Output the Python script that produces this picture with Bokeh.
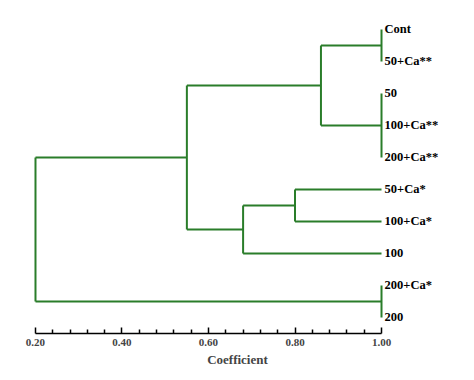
from bokeh.plotting import figure
from bokeh.models import Range1d, LinearAxis, FixedTicker, PrintfTickFormatter, ColumnDataSource
from bokeh.core.properties import value
from bokeh.embed import file_html
from bokeh.resources import INLINE

# Leaves, top to bottom
leaves = ["Cont", "50+Ca**", "50", "100+Ca**", "200+Ca**",
          "50+Ca*", "100+Ca*", "100", "200+Ca*", "200"]

# Clusters: (similarity coefficient at merge, members) — members are leaf indices or other cluster names
clusters = {
    "A": (1.00, [0, 1]),
    "B": (1.00, [2, 3, 4]),
    "C": (0.86, ["A", "B"]),
    "D": (0.80, [5, 6]),
    "E": (0.68, ["D", 7]),
    "F": (0.55, ["C", "E"]),
    "G": (1.00, [8, 9]),
    "root": (0.20, ["F", "G"]),
}
leaf_coef = 1.00

major_ticks = [0.20, 0.40, 0.60, 0.80, 1.00]
minor_ticks = [0.24, 0.28, 0.32, 0.36, 0.44, 0.48, 0.52, 0.56,
               0.64, 0.68, 0.72, 0.76, 0.84, 0.88, 0.92, 0.96]

GREEN = "#2a7d2a"
SERIF = "'Liberation Serif', 'Times New Roman', serif"

xs, ys = [], []

def place(node):
    if isinstance(node, int):
        return leaf_coef, float(node)
    h, members = clusters[node]
    pts = [place(m) for m in members]
    for cx, cy in pts:
        if cx != h:
            xs.append([cx, h]); ys.append([cy, cy])
    ymin = min(p[1] for p in pts); ymax = max(p[1] for p in pts)
    xs.append([h, h]); ys.append([ymin, ymax])
    return h, (ymin + ymax) / 2

place("root")

W, H = 474, 380
p = figure(width=W, height=H, output_backend="svg", toolbar_location=None,
           x_range=Range1d(0.1191, 1.2150), y_range=Range1d(9.5, -0.906),
           x_axis_type=None, y_axis_type=None,
           min_border_left=0, min_border_right=0, min_border_top=0, min_border_bottom=47)
p.outline_line_color = None
p.grid.visible = False
p.background_fill_color = "white"

p.multi_line(xs, ys, line_color=GREEN, line_width=2)

src = ColumnDataSource(dict(x=[leaf_coef] * len(leaves), y=list(range(len(leaves))), t=leaves))
p.text(x="x", y="y", text="t", source=src, x_offset=3, text_baseline="middle",
       text_font=value(SERIF), text_font_style="bold", text_font_size="12.5px",
       text_color="black")

ax = LinearAxis(ticker=FixedTicker(ticks=major_ticks, minor_ticks=minor_ticks),
                formatter=PrintfTickFormatter(format="%.2f"),
                bounds=(0.2, 1.0), axis_label="Coefficient")
ax.axis_line_color = "black"
ax.axis_line_width = 1.5
ax.major_tick_in = 6
ax.major_tick_out = 0
ax.minor_tick_in = 4
ax.minor_tick_out = 0
ax.major_tick_line_width = 1.5
ax.minor_tick_line_width = 1.5
ax.major_label_standoff = 5
ax.major_label_text_font = SERIF
ax.major_label_text_font_style = "bold"
ax.major_label_text_font_size = "11px"
ax.axis_label_standoff = 3
ax.axis_label_text_font = SERIF
ax.axis_label_text_font_style = "bold"
ax.axis_label_text_font_size = "13px"
p.add_layout(ax, "below")

open("out.html", "w").write(file_html(p, INLINE))
